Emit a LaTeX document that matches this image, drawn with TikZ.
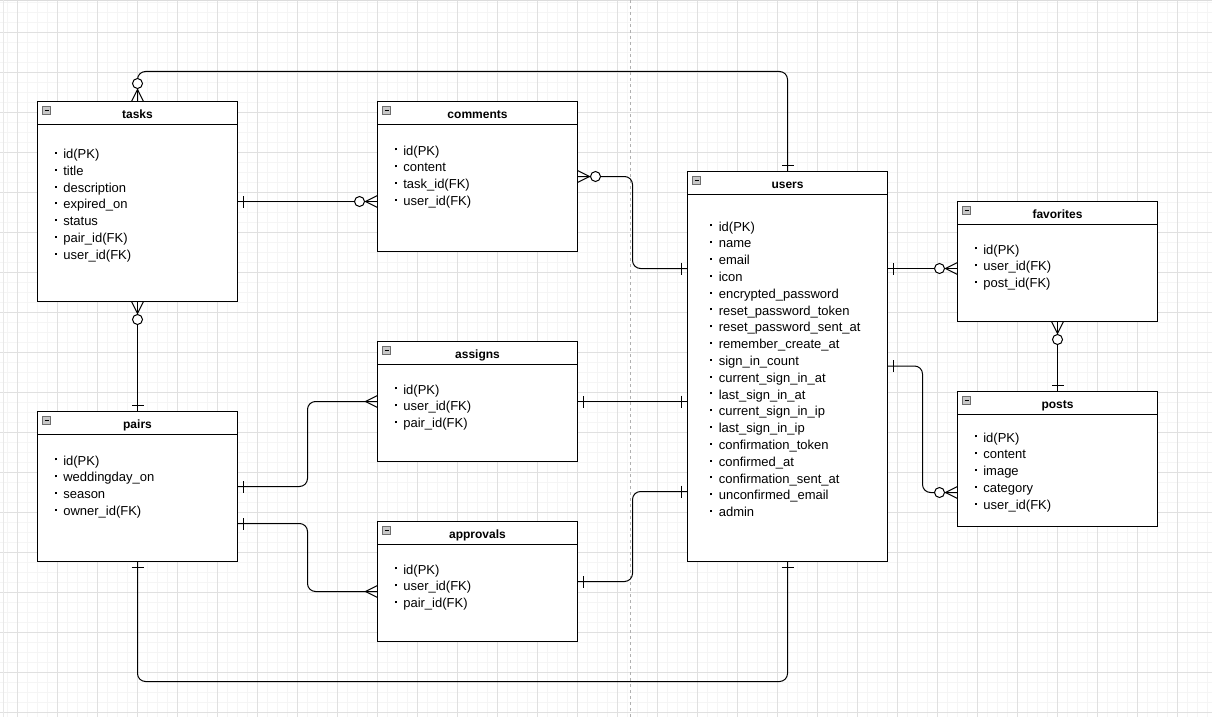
\documentclass[tikz,border=0pt]{standalone}
\usepackage{fontspec}
\setmainfont{Liberation Sans}
\usetikzlibrary{calc}

\newcommand\erbullet{\raisebox{3.4pt}{\rule{1.5pt}{1.5pt}}\hspace{4.9pt}}

\tikzset{
  x=0.75pt, y=-0.75pt,
  tbl/.style={draw=black, line width=0.75pt, fill=white, rectangle, inner sep=0pt, outer sep=0pt, anchor=north west},
  ttl/.style={font=\fontsize{9}{10}\selectfont\bfseries, inner sep=0pt, anchor=base},
  itm/.style={font=\fontsize{9.75}{12}\selectfont, inner sep=0pt, anchor=base west},
  conn/.style={draw=black, line width=0.75pt, rounded corners=6pt},
  minorgrid/.style={draw={rgb,255:red,245;green,245;blue,245}, line width=0.75pt},
  majorgrid/.style={draw={rgb,255:red,224;green,224;blue,224}, line width=0.75pt},
  pics/onebar/.style={code={\draw[line width=0.75pt] (-6,-6) -- (-6,6);}},
  pics/manycrow/.style={code={\draw[line width=0.75pt] (0,-6) -- (-12,0) -- (0,6);}},
  pics/zeromany/.style={code={\draw[line width=0.75pt] (0,-6) -- (-12,0) -- (0,6);
      \draw[line width=0.75pt, fill=white] (-18,0) circle [radius=3.75pt];}},
}

% #1 name, #2 x, #3 y, #4 width, #5 height, #6 title, #7 item x offset, #8 first baseline, #9 items
\newcommand\ertable[9]{%
  \node[tbl, minimum width=#4*0.75pt, minimum height=#5*0.75pt] (#1) at (#2,#3) {};
  \draw[line width=0.75pt] ($(#1.north west)+(0,23)$) -- ($(#1.north east)+(0,23)$);
  \node[ttl] (#1-title) at ($(#1.north)+(0,16.5)$) {#6};
  \draw[draw={rgb,255:red,110;green,110;blue,110}, fill={rgb,255:red,200;green,200;blue,200}, line width=0.75pt]
     ($(#1.north west)+(5,5)$) rectangle ($(#1.north west)+(13,13)$);
  \draw[line width=0.75pt, black] ($(#1.north west)+(7,9)$) -- ($(#1.north west)+(11,9)$);
  \foreach \ittxt [count=\i] in {#9} {
    \node[itm] (#1-i\i) at ($(#1.north west)+(#7, #8+16.8*\i-16.8)$) {\erbullet\ittxt};
  }
}

\begin{document}
\begin{tikzpicture}
\useasboundingbox (0,0) rectangle (1212,717);
\fill[white] (0,0) rectangle (1212,717);
% grid
\foreach \gx in {7.5,17.5,...,1210} \draw[minorgrid] (\gx,0) -- (\gx,717);
\foreach \gy in {2.5,12.5,...,716} \draw[minorgrid] (0,\gy) -- (1212,\gy);
\foreach \gx in {17.5,57.5,...,1210} \draw[majorgrid] (\gx,0) -- (\gx,717);
\foreach \gy in {32.5,72.5,...,716} \draw[majorgrid] (0,\gy) -- (1212,\gy);
\draw[draw={rgb,255:red,220;green,220;blue,220}, line width=0.75pt] (0,0.5) -- (1212,0.5);
\draw[draw={rgb,255:red,232;green,232;blue,232}, line width=0.75pt] (3.5,0) -- (3.5,717);
\draw[draw={rgb,255:red,176;green,176;blue,176}, line width=0.75pt, dash pattern=on 2.25pt off 2.25pt] (630.5,0) -- (630.5,717);

% tables
\ertable{tasks}{37.5}{101.5}{200}{200}{tasks}{17}{57}{id(PK),title,description,expired\_on,status,pair\_id(FK),user\_id(FK)}
\ertable{comments}{377.5}{101.5}{200}{150}{comments}{17}{53.5}{id(PK),content,task\_id(FK),user\_id(FK)}
\ertable{users}{687.5}{171.5}{200}{390}{users}{22.5}{59.5}{id(PK),name,email,icon,encrypted\_password,reset\_password\_token,reset\_password\_sent\_at,remember\_create\_at,sign\_in\_count,current\_sign\_in\_at,last\_sign\_in\_at,current\_sign\_in\_ip,last\_sign\_in\_ip,confirmation\_token,confirmed\_at,confirmation\_sent\_at,unconfirmed\_email,admin}
\ertable{favorites}{957.5}{201.5}{200}{120}{favorites}{17}{52.5}{id(PK),user\_id(FK),post\_id(FK)}
\ertable{posts}{957.5}{391.5}{200}{135}{posts}{17}{50.5}{id(PK),content,image,category,user\_id(FK)}
\ertable{pairs}{37.5}{411.5}{200}{150}{pairs}{17}{53.5}{id(PK),weddingday\_on,season,owner\_id(FK)}
\ertable{assigns}{377.5}{341.5}{200}{120}{assigns}{17}{52.5}{id(PK),user\_id(FK),pair\_id(FK)}
\ertable{approvals}{377.5}{521.5}{200}{120}{approvals}{17}{52.5}{id(PK),user\_id(FK),pair\_id(FK)}

% helper coordinates on box sides
\coordinate (topy) at (0,71.5);
\coordinate (cu) at ($(users.north west)+(0,97)$);
\coordinate (uf) at ($(users.north east)+(0,97)$);
\coordinate (up1) at ($(users.north east)+(0,194.5)$);
\coordinate (up2) at ($(posts.north west)+(0,101)$);
\coordinate (pa1) at ($(pairs.north east)+(0,75)$);
\coordinate (pb1) at ($(pairs.north east)+(0,112)$);
\coordinate (pb2) at ($(approvals.west)+(0,10)$);
\coordinate (ua) at ($(users.north west)+(0,320)$);

% connectors
\draw[conn] (users.north) -- (users.north |- topy) -- (tasks.north |- topy) -- (tasks.north);
\pic[rotate=-90] at (tasks.north) {zeromany};
\pic[rotate=-90] at (users.north) {onebar};

\draw[conn] (tasks.east) -- (comments.west |- tasks.east);
\pic[rotate=180] at (tasks.east) {onebar};
\pic at (comments.west |- tasks.east) {zeromany};

\draw[conn] (comments.east) -- ++(55,0) |- (cu);
\pic[rotate=180] at (comments.east) {zeromany};
\pic at (cu) {onebar};

\draw[conn] (uf) -- (favorites.west |- uf);
\pic[rotate=180] at (uf) {onebar};
\pic at (favorites.west |- uf) {zeromany};

\draw[conn] (favorites.south) -- (posts.north);
\pic[rotate=90] at (favorites.south) {zeromany};
\pic[rotate=-90] at (posts.north) {onebar};

\draw[conn] (up1) -- ++(35,0) |- (up2);
\pic[rotate=180] at (up1) {onebar};
\pic at (up2) {zeromany};

\draw[conn] (tasks.south) -- (pairs.north);
\pic[rotate=90] at (tasks.south) {zeromany};
\pic[rotate=-90] at (pairs.north) {onebar};

\draw[conn] (pa1) -- ++(70,0) |- (assigns.west);
\pic[rotate=180] at (pa1) {onebar};
\pic at (assigns.west) {manycrow};

\draw[conn] (assigns.east) -- (users.west |- assigns.east);
\pic[rotate=180] at (assigns.east) {onebar};
\pic at (users.west |- assigns.east) {onebar};

\draw[conn] (pb1) -- ++(70,0) |- (pb2);
\pic[rotate=180] at (pb1) {onebar};
\pic at (pb2) {manycrow};

\draw[conn] (approvals.east) -- ++(55,0) |- (ua);
\pic[rotate=180] at (approvals.east) {onebar};
\pic at (ua) {onebar};

\draw[conn] (pairs.south) -- ++(0,120) -| (users.south);
\pic[rotate=90] at (pairs.south) {onebar};
\pic[rotate=90] at (users.south) {onebar};
\end{tikzpicture}
\end{document}
